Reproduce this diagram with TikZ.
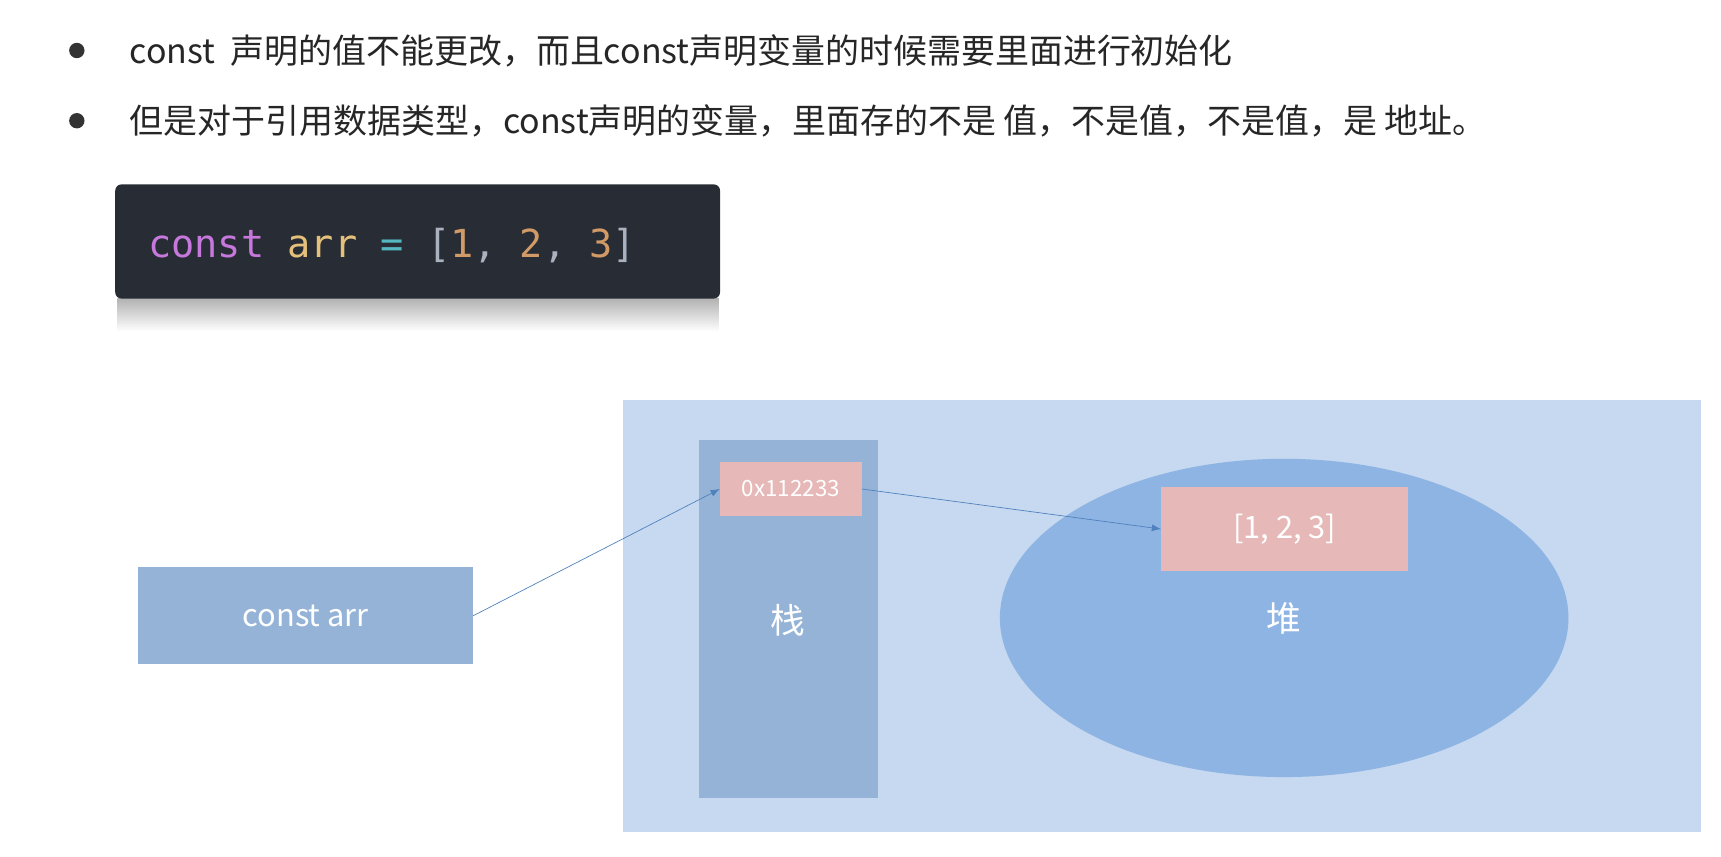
\documentclass[tikz,border=0pt]{standalone}
\usepackage{fontspec}
\setmainfont{Noto Sans CJK SC}
\newfontfamily\codefont{DejaVu Sans Mono}
\usetikzlibrary{arrows.meta}
\definecolor{panel}{HTML}{C6D9F0}
\definecolor{stackc}{HTML}{95B3D7}
\definecolor{heapc}{HTML}{8EB4E3}
\definecolor{pinkc}{HTML}{E6B9B8}
\definecolor{codebg}{HTML}{282C34}
\definecolor{arrc}{HTML}{4F81BD}
\definecolor{kw}{HTML}{C678DD}
\definecolor{var}{HTML}{E5C07B}
\definecolor{op}{HTML}{56B6C2}
\definecolor{br}{HTML}{ABB2BF}
\definecolor{num}{HTML}{D19A66}
\newcommand{\fs}[1]{\fontsize{#1}{#1}\selectfont}
\begin{document}
\begin{tikzpicture}[x=0.05cm,y=-0.05cm,
  btext/.style={anchor=west,inner sep=0,text=black!85,font=\fs{44}},
  blk/.style={draw=none,inner sep=0,minimum width=#1},
  wt/.style={text=white,inner sep=0},
  conn/.style={draw=arrc,line width=0.9pt,-{Latex[length=12pt,width=9pt]}}]
\useasboundingbox (0,0) rectangle (1568,780);
\fill[black!80] (70,46) circle (7);
\fill[black!80] (70,110) circle (7);
\node[btext] (t1) at (118,46) {const\ \ 声明的值不能更改，而且const声明变量的时候需要里面进行初始化};
\node[btext] (t2) at (118,110) {但是对于引用数据类型，const声明的变量，里面存的不是 值，不是值，不是值，是 地址。};
% code box with reflection
\shade[top color=black!30,bottom color=white] (107,272) rectangle (655,302);
\fill[codebg,rounded corners=8] (105,168) rectangle (656,272);
\node[anchor=west,inner sep=0,font=\codefont\fs{50}] (code) at (135,224)
 {\textcolor{kw}{const} \textcolor{var}{arr} \textcolor{op}{=} \textcolor{br}{[}\textcolor{num}{1}\textcolor{br}{,} \textcolor{num}{2}\textcolor{br}{,} \textcolor{num}{3}\textcolor{br}{]}};
% memory panel
\fill[panel] (568,364) rectangle (1550,758);
\fill[stackc] (637,401) rectangle (800,727);
\fill[heapc] (1170,563) ellipse (259 and 145);
\node[wt,font=\fs{45}] (zhan) at (718,565) {栈};
\node[wt,font=\fs{45}] (dui) at (1170,563) {堆};
\node[fill=pinkc,minimum width=129*0.05cm,minimum height=49*0.05cm,inner sep=0,text=white,font=\fs{29}] (addr) at (720.5,445.5) {0x112233};
\node[fill=pinkc,minimum width=225*0.05cm,minimum height=76*0.05cm,inner sep=0,text=white,font=\fs{40}] (arr) at (1170.5,482) {[1, 2, 3]};
\node[fill=stackc,minimum width=305*0.05cm,minimum height=88*0.05cm,inner sep=0,text=white,font=\fs{40}] (carr) at (278.5,561) {const arr};
\draw[conn] (carr.east) -- (addr.west);
\draw[conn] (addr.east) -- (arr.west);
\end{tikzpicture}
\end{document}
